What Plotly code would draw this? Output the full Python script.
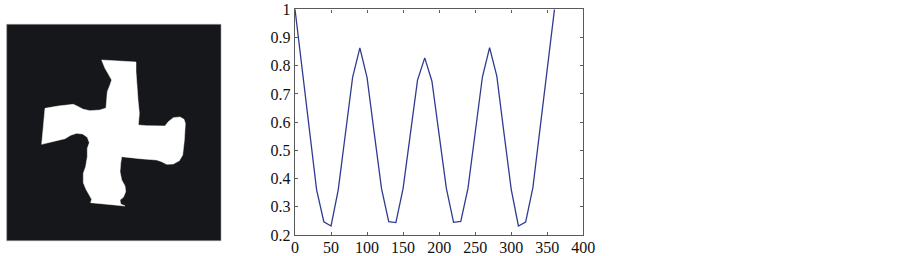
import plotly.graph_objects as go

# ---- data ----
angles = list(range(0, 361, 10))
values = [1.0, 0.79, 0.575, 0.36, 0.247, 0.232, 0.36, 0.56, 0.76, 0.863,
          0.758, 0.56, 0.365, 0.247, 0.244, 0.365, 0.56, 0.749, 0.828, 0.745,
          0.555, 0.365, 0.245, 0.248, 0.365, 0.56, 0.76, 0.864, 0.763, 0.56,
          0.362, 0.232, 0.246, 0.367, 0.58, 0.79, 1.0]
x_ticks = [0, 50, 100, 150, 200, 250, 300, 350, 400]
y_ticks = [0.2, 0.3, 0.4, 0.5, 0.6, 0.7, 0.8, 0.9, 1.0]
y_tick_labels = ["0.2", "0.3", "0.4", "0.5", "0.6", "0.7", "0.8", "0.9", "1"]

# outline of the white shape in the left image (image pixel coordinates, x3 scale)
shape_x3 = [305, 408, 408, 410, 414, 418, 415, 440, 495, 505, 520, 540, 552, 556,
            553, 548, 538, 520, 500, 485, 470, 420, 365, 362, 360, 365, 375, 377,
            370, 360, 362, 375, 272, 275, 268, 258, 250, 250, 257, 262, 262, 268,
            262, 248, 230, 212, 195, 180, 125, 130, 135, 175, 220, 235, 250, 270,
            300, 318, 320, 322, 330, 335, 325, 315, 305]
shape_y3 = [180, 186, 215, 260, 300, 340, 375, 377, 378, 365, 353, 351, 358, 370,
            420, 465, 482, 492, 493, 485, 480, 476, 470, 490, 515, 540, 558, 575,
            592, 600, 612, 618, 608, 598, 585, 568, 548, 520, 500, 470, 445, 428,
            412, 402, 400, 406, 416, 420, 433, 380, 325, 318, 313, 320, 328, 332,
            330, 324, 305, 275, 255, 240, 222, 205, 180]
shape_x = [v / 3 for v in shape_x3]
shape_y = [v / 3 for v in shape_y3]

W, H = 903, 256
img_l, img_t, img_r, img_b = 6.7, 24.3, 221.0, 240.7
plot_l, plot_t, plot_r, plot_b = 295.0, 9.3, 583.3, 235.0

fig = go.Figure()

fig.add_trace(go.Scatter(
    x=shape_x, y=shape_y, mode="lines", fill="toself",
    fillcolor="#ffffff", line=dict(color="#ffffff", width=0.5),
    xaxis="x2", yaxis="y2", hoverinfo="skip", showlegend=False))

fig.add_trace(go.Scatter(
    x=angles, y=values, mode="lines",
    line=dict(color="#2f3b8f", width=1.3),
    showlegend=False))

tickfont = dict(family="Liberation Serif", size=16, color="#111111")
axis_common = dict(showgrid=False, zeroline=False, showline=True,
                   linecolor="#5a5a5a", linewidth=1.4, mirror="ticks",
                   ticks="inside", ticklen=3, tickcolor="#5a5a5a",
                   tickwidth=1, tickfont=tickfont, automargin=False)

fig.update_layout(
    width=W, height=H,
    margin=dict(l=0, r=0, t=0, b=0, pad=0),
    paper_bgcolor="white", plot_bgcolor="rgba(0,0,0,0)",
    xaxis=dict(domain=[plot_l / W, plot_r / W], range=[0, 400],
               tickvals=x_ticks, ticklabelstandoff=-2, **axis_common),
    yaxis=dict(domain=[1 - plot_b / H, 1 - plot_t / H], range=[0.2, 1.0],
               tickvals=y_ticks, ticktext=y_tick_labels, **axis_common),
    xaxis2=dict(domain=[img_l / W, img_r / W], range=[img_l, img_r],
                visible=False, anchor="y2", automargin=False),
    yaxis2=dict(domain=[1 - img_b / H, 1 - img_t / H], range=[img_b, img_t],
                visible=False, anchor="x2", automargin=False),
    shapes=[dict(type="rect", xref="x2 domain", yref="y2 domain",
                 x0=0, x1=1, y0=0, y1=1, fillcolor="#16171a",
                 line=dict(color="#9a9a9a", width=0.6), layer="below")],
)

fig.write_html("out.html", config={"responsive": False, "displayModeBar": False},
               post_script="document.body.style.margin='0';document.body.style.overflow='hidden';")
